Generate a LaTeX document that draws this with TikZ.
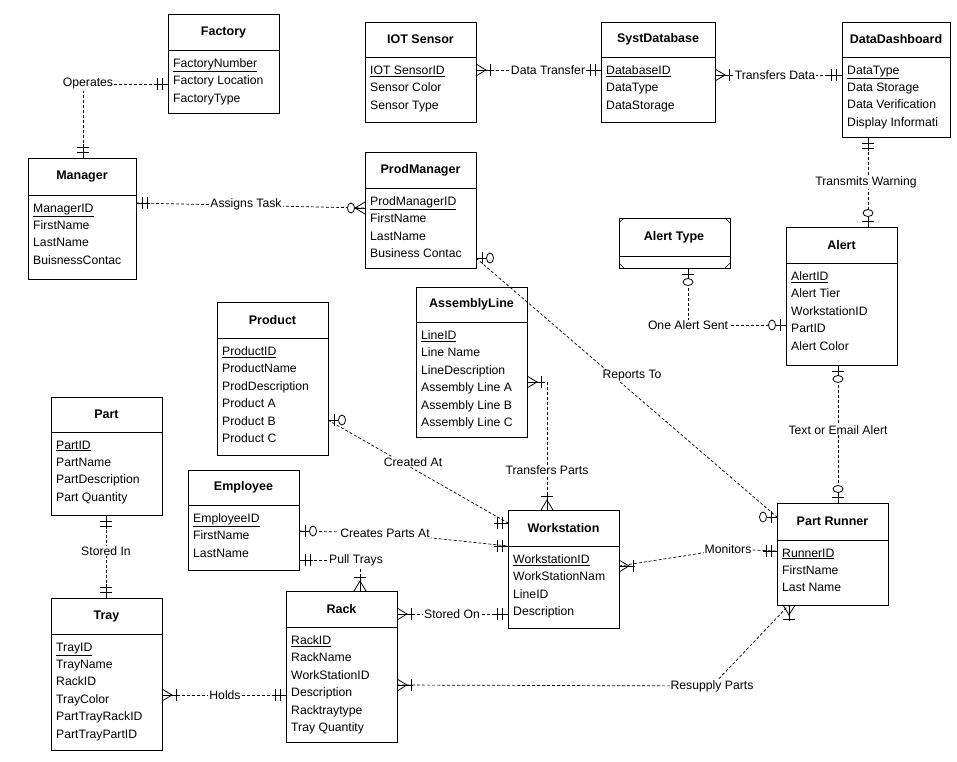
\documentclass[tikz,border=0pt]{standalone}
\usepackage{fontspec}
\setmainfont{Liberation Sans}
\usetikzlibrary{fit}
\begin{document}
\begin{tikzpicture}[x=1pt,y=-1pt,
  box/.style={draw,inner sep=0pt,line width=0.8pt},
  ttl/.style={font=\fontsize{12.5}{14}\selectfont\bfseries},
  att/.style={font=\fontsize{12.2}{17.4}\selectfont,align=left,anchor=north west,inner sep=0pt},
  conn/.style={densely dashed,line width=0.7pt},
  lab/.style={fill=white,inner sep=1pt,font=\fontsize{12.2}{14}\selectfont}]
\useasboundingbox (0,0) rectangle (957,761);
\newcommand\ent[8]{%
  \node[box,fit={(#2,#3)(#4,#5)}] (#1) {};
  \draw[line width=0.8pt] (#2,#6)--(#4,#6);
  \node[ttl] at ({(#2+#4)/2},{(#3+#6)/2}) {#7};
  \node[att] at ({#2+5},{#6+8.5}) {#8};}
\newcommand\mk[4]{% type x y angle
  \begin{scope}[shift={(#2,#3)},rotate=-#4,line width=0.8pt]
  \ifx#1o \draw (0,0)--(14,0); \draw (6,-6)--(6,6); \draw (11,-6)--(11,6);\fi
  \ifx#1z \draw (0,0)--(10,0); \draw (6,-6)--(6,6); \draw[fill=white] (14,0) ellipse [x radius=3.5,y radius=5];\fi
  \ifx#1m \draw (0,-6)--(10,0)--(0,6); \draw (0,0)--(16,0); \draw (14,-6)--(14,6);\fi
  \ifx#1p \draw (0,-6)--(10,0)--(0,6); \draw (0,0)--(10,0); \draw[fill=white] (14,0) ellipse [x radius=3.5,y radius=5];\fi
  \end{scope}}
\ent{fac}{168}{14}{279}{113}{50}{Factory}{\underline{FactoryNumber}\\Factory Location\\FactoryType}
\ent{iot}{365}{22}{476}{122}{57}{IOT Sensor}{\underline{IOT SensorID}\\Sensor Color\\Sensor Type}
\ent{sdb}{601}{22}{715}{122}{57}{SystDatabase}{\underline{DatabaseID}\\DataType\\DataStorage}
\ent{dash}{842}{22}{950}{137}{57}{DataDashboard}{\underline{DataType}\\Data Storage\\Data Verification\\Display Informati}
\ent{man}{28}{158}{136}{279}{195}{Manager}{\underline{ManagerID}\\FirstName\\LastName\\BuisnessContac}
\ent{pm}{365}{152}{476}{268}{188}{ProdManager}{\underline{ProdManagerID}\\FirstName\\LastName\\Business Contac}
\ent{alert}{786}{227}{897}{365}{263}{Alert}{\underline{AlertID}\\Alert Tier\\WorkstationID\\PartID\\Alert Color}
\ent{prod}{217}{302}{328}{455}{338}{Product}{\underline{ProductID}\\ProductName\\ProdDescription\\Product A\\Product B\\Product C}
\ent{al}{416}{287}{527}{437}{322}{AssemblyLine}{\underline{LineID}\\Line Name\\LineDescription\\Assembly Line A\\Assembly Line B\\Assembly Line C}
\ent{part}{51}{397}{162}{515}{432}{Part}{\underline{PartID}\\PartName\\PartDescription\\Part Quantity}
\ent{emp}{188}{470}{299}{570}{505}{Employee}{\underline{EmployeeID}\\FirstName\\LastName}
\ent{ws}{508}{510}{619}{628}{546}{Workstation}{\underline{WorkstationID}\\WorkStationNam\\LineID\\Description}
\ent{pr}{777}{503}{888}{605}{540}{Part Runner}{\underline{RunnerID}\\FirstName\\Last Name}
\ent{tray}{51}{598}{162}{750}{634}{Tray}{\underline{TrayID}\\TrayName\\RackID\\TrayColor\\PartTrayRackID\\PartTrayPartID}
\ent{rack}{286}{591}{397}{742}{627}{Rack}{\underline{RackID}\\RackName\\WorkStationID\\Description\\Racktraytype\\Tray Quantity}
% Alert Type
\node[box,fit={(619,218)(730,268)}] (at) {};
\draw[line width=0.8pt] (619,256)--(730,256);
\node[ttl] at (674,237) {Alert Type};
\foreach \cx/\cy/\sx/\sy in {619/218/1/1,730/218/-1/1,619/268/1/-1,730/268/-1/-1}
  \draw[line width=0.6pt] (\cx+\sx*5,\cy)--(\cx,\cy+\sy*5);
% connectors
\draw[conn] (83,158)--(83,84)--(168,84); \node[lab] at (88,84) {Operates};
\mk{o}{168}{84}{180}\mk{o}{83}{158}{270}
\draw[conn] (476,70)--(601,70); \node[lab] at (548,70) {Data Transfer};
\mk{m}{476}{70}{0}\mk{o}{601}{70}{180}
\draw[conn] (715,75)--(842,75); \node[lab] at (775,75) {Transfers Data};
\mk{m}{715}{75}{0}\mk{o}{842}{75}{180}
\draw[conn] (868,137)--(868,227); \node[lab] at (866,182) {Transmits Warning};
\mk{o}{868}{137}{90}\mk{z}{868}{227}{270}
\draw[conn] (136,203)--(365,208); \node[lab] at (246,204) {Assigns Task};
\mk{o}{136}{203}{0}\mk{p}{365}{208}{180}
\draw[conn] (476,258)--(777,517); \node[lab] at (632,376) {Reports To};
\mk{z}{476}{258}{0}\mk{z}{777}{517}{180}
\draw[conn] (688,268)--(688,325)--(786,325); \node[lab] at (688,325) {One Alert Sent};
\mk{z}{688}{268}{90}\mk{z}{786}{325}{180}
\draw[conn] (838,365)--(838,503); \node[lab] at (838,430) {Text or Email Alert};
\mk{z}{838}{365}{90}\mk{z}{838}{503}{270}
\draw[conn] (328,420)--(508,523); \node[lab] at (413,462) {Created At};
\mk{z}{328}{420}{0}\mk{o}{508}{523}{180}
\draw[conn] (527,382)--(547,382)--(547,510); \node[lab] at (547,470) {Transfers Parts};
\mk{m}{527}{382}{0}\mk{m}{547}{510}{270}
\draw[conn] (299,531)--(385,533)--(508,546); \node[lab] at (385,533) {Creates Parts At};
\mk{z}{299}{531}{0}\mk{o}{508}{546}{180}
\draw[conn] (299,560)-|(360,591); \node[lab] at (356,560) {Pull Trays};
\mk{o}{299}{560}{0}\mk{m}{360}{591}{270}
\draw[conn] (397,614)--(508,614); \node[lab] at (452,614) {Stored On};
\mk{m}{397}{614}{0}\mk{o}{508}{614}{180}
\draw[conn] (619,566)--(728,549)--(777,551); \node[lab] at (728,549) {Monitors};
\mk{m}{619}{566}{0}\mk{o}{777}{551}{180}
\draw[conn] (106,515)--(106,598); \node[lab] at (106,551) {Stored In};
\mk{o}{106}{515}{90}\mk{o}{106}{598}{270}
\draw[conn] (162,695)--(286,695); \node[lab] at (225,695) {Holds};
\mk{m}{162}{695}{0}\mk{o}{286}{695}{180}
\draw[conn] (397,685)--(712,686)--(789,605); \node[lab] at (712,686) {Resupply Parts};
\mk{m}{397}{685}{0}\mk{m}{789}{605}{90}
\end{tikzpicture}
\end{document}
